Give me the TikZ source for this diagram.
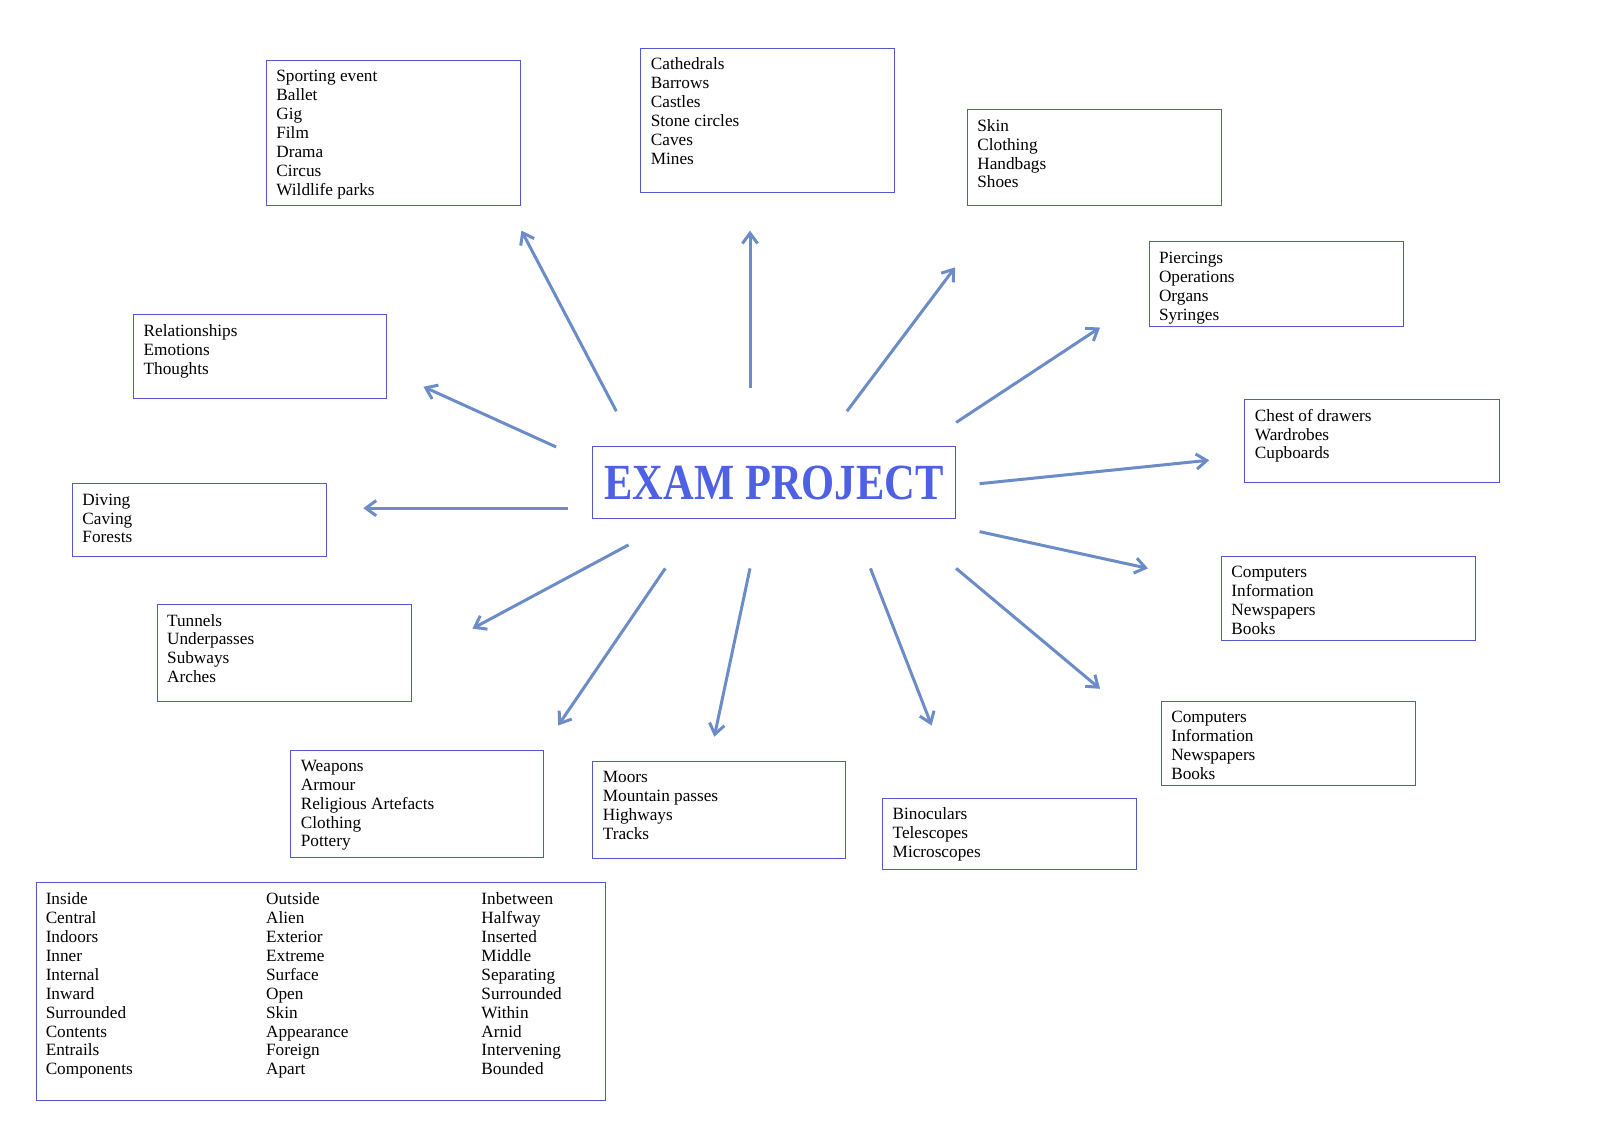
\documentclass[tikz,border=0pt]{standalone}
\usepackage{fontspec}
\setmainfont{Liberation Serif}
\usetikzlibrary{arrows.meta}
\usetikzlibrary{fit}
\definecolor{boxblue}{RGB}{80,90,200}
\definecolor{arrowblue}{RGB}{108,140,200}
\definecolor{titleblue}{RGB}{78,96,228}

\begin{document}
\begin{tikzpicture}[x=0.2551mm, y=-0.2551mm,
  main/.style = {draw=boxblue, line width=0.22mm, inner sep=0pt},
  items/.style = {anchor=north west, align=left, inner sep=0pt, font=\fontsize{12.25}{13.45}\selectfont},
  spoke/.style = {draw=arrowblue, line width=0.75mm, -{Straight Barb[length=2.6mm, width=3.8mm]}}]
\useasboundingbox (0,0) rectangle (1568,1108.4);
% centre
\node[main, minimum width=90.6mm, minimum height=17.9mm] (exam) at (758.5,473)
  {\scalebox{0.84}[1]{\fontsize{36}{40}\selectfont\bfseries\color{titleblue}EXAM PROJECT}};
% boxes round the centre
\node[main, fit={(261,59) (510,201)}] (sport) {};
\node[items] at ([shift={(10,10)}]sport.north west) {Sporting event\\Ballet\\Gig\\Film\\Drama\\Circus\\Wildlife parks};
\node[main, fit={(628,47) (877,189)}] (sites) {};
\node[items] at ([shift={(10,10)}]sites.north west) {Cathedrals\\Barrows\\Castles\\Stone circles\\Caves\\Mines};
\node[main, fit={(948,107) (1197,201)}] (skin) {};
\node[items] at ([shift={(10,10)}]skin.north west) {Skin\\Clothing\\Handbags\\Shoes};
\node[main, fit={(1126,237) (1375,320)}] (body) {};
\node[items] at ([shift={(10,10)}]body.north west) {Piercings\\Operations\\Organs\\Syringes};
\node[main, fit={(1220,391) (1469,473)}] (furn) {};
\node[items] at ([shift={(10,10)}]furn.north west) {Chest of drawers\\Wardrobes\\Cupboards};
\node[main, fit={(1197,545) (1446,628)}] (media1) {};
\node[items] at ([shift={(10,10)}]media1.north west) {Computers\\Information\\Newspapers\\Books};
\node[main, fit={(1138,687) (1387,770)}] (media2) {};
\node[items] at ([shift={(10,10)}]media2.north west) {Computers\\Information\\Newspapers\\Books};
\node[main, fit={(865,782) (1114,852)}] (optics) {};
\node[items] at ([shift={(10,10)}]optics.north west) {Binoculars\\Telescopes\\Microscopes};
\node[main, fit={(581,746) (829,841)}] (routes) {};
\node[items] at ([shift={(10,10)}]routes.north west) {Moors\\Mountain passes\\Highways\\Tracks};
\node[main, fit={(285,735) (533,840)}] (relics) {};
\node[items] at ([shift={(10,10)}]relics.north west) {Weapons\\Armour\\Religious Artefacts\\Clothing\\Pottery};
\node[main, fit={(154,592) (403,687)}] (under) {};
\node[items] at ([shift={(10,10)}]under.north west) {Tunnels\\Underpasses\\Subways\\Arches};
\node[main, fit={(71,474) (320,545)}] (nature) {};
\node[items] at ([shift={(10,10)}]nature.north west) {Diving\\Caving\\Forests};
\node[main, fit={(131,308) (379,390)}] (mind) {};
\node[items] at ([shift={(10,10)}]mind.north west) {Relationships\\Emotions\\Thoughts};
% word list
\node[main, fit={(36,865) (593,1078)}] (words) {};
\node[items] at ([shift={(9,10)}]words.north west) {Inside\\Central\\Indoors\\Inner\\Internal\\Inward\\Surrounded\\Contents\\Entrails\\Components};
\node[items] at ([shift={(225,10)}]words.north west) {Outside\\Alien\\Exterior\\Extreme\\Surface\\Open\\Skin\\Appearance\\Foreign\\Apart};
\node[items] at ([shift={(436,10)}]words.north west) {Inbetween\\Halfway\\Inserted\\Middle\\Separating\\Surrounded\\Within\\Arnid\\Intervening\\Bounded};
% arrow ends
\coordinate (t1) at (604,403);  \coordinate (h1) at (511,226);
\coordinate (t2) at (735,380);  \coordinate (h2) at (735,226);
\coordinate (t3) at (830,403);  \coordinate (h3) at (936,262);
\coordinate (t4) at (937,414);  \coordinate (h4) at (1078,321);
\coordinate (t5) at (960,474);  \coordinate (h5) at (1185,451);
\coordinate (t6) at (960,521);  \coordinate (h6) at (1125,557);
\coordinate (t7) at (937,557);  \coordinate (h7) at (1078,675);
\coordinate (t8) at (853,557);  \coordinate (h8) at (913,711);
\coordinate (t9) at (735,557);  \coordinate (h9) at (700,722);
\coordinate (t10) at (652,557); \coordinate (h10) at (547,711);
\coordinate (t11) at (616,534); \coordinate (h11) at (463,616);
\coordinate (t12) at (557,498); \coordinate (h12) at (356,498);
\coordinate (t13) at (545,438); \coordinate (h13) at (415,379);
\draw[spoke] (t1) -- (h1);
\draw[spoke] (t2) -- (h2);
\draw[spoke] (t3) -- (h3);
\draw[spoke] (t4) -- (h4);
\draw[spoke] (t5) -- (h5);
\draw[spoke] (t6) -- (h6);
\draw[spoke] (t7) -- (h7);
\draw[spoke] (t8) -- (h8);
\draw[spoke] (t9) -- (h9);
\draw[spoke] (t10) -- (h10);
\draw[spoke] (t11) -- (h11);
\draw[spoke] (t12) -- (h12);
\draw[spoke] (t13) -- (h13);
\end{tikzpicture}
\end{document}
